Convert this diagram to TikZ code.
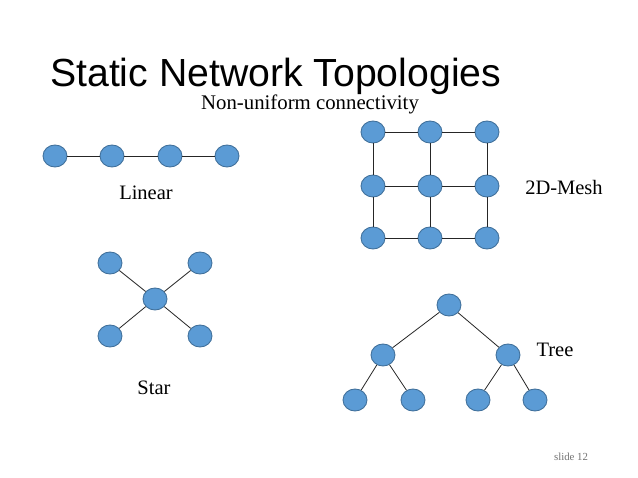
\documentclass[tikz,border=0pt]{standalone}
\usepackage{fontspec}
\setmainfont{Liberation Serif}
\newfontfamily\titlefont{Liberation Sans}
\usetikzlibrary{shapes.geometric}
\definecolor{nodefill}{HTML}{5B9BD5}
\definecolor{nodeedge}{HTML}{41719C}
\begin{document}
\begin{tikzpicture}[x=1pt,y=-1pt,
  vtx/.style={ellipse,draw=nodeedge,fill=nodefill,line width=0.9pt,inner sep=0pt,minimum width=24pt,minimum height=22pt},
  lnk/.style={draw=black!85,line width=0.8pt},
  lbl/.style={font=\fontsize{20.5}{24}\selectfont,inner sep=0pt}]
\useasboundingbox[fill=white] (0,0) rectangle (638,478);
% title
\node[anchor=base west,inner sep=0pt,font=\titlefont\fontsize{39.2}{44}\selectfont] (title) at (50,87) {Static Network Topologies};
\node[anchor=base,inner sep=0pt,font=\fontsize{20.8}{24}\selectfont] (sub) at (310,110) {Non-uniform connectivity};
% linear
\node[vtx] (l1) at (55,156) {};
\node[vtx] (l2) at (112,156) {};
\node[vtx] (l3) at (170,156) {};
\node[vtx] (l4) at (227,156) {};
\draw[lnk] (l1)--(l2) (l2)--(l3) (l3)--(l4);
\node[lbl] (linlbl) at (146,193) {Linear};
% mesh
\foreach \i/\x in {1/373,2/430,3/487}{
  \foreach \j/\y in {1/132,2/186,3/238}{
    \node[vtx] (m\i\j) at (\x,\y) {};
  }
}
\draw[lnk] (m11)--(m21) (m21)--(m31) (m12)--(m22) (m22)--(m32) (m13)--(m23) (m23)--(m33)
  (m11)--(m12) (m12)--(m13) (m21)--(m22) (m22)--(m23) (m31)--(m32) (m32)--(m33);
\node[lbl] (meshlbl) at (564,187) {2D-Mesh};
% star
\node[vtx] (sc) at (155,299) {};
\node[vtx] (s1) at (110,263) {};
\node[vtx] (s2) at (200,263) {};
\node[vtx] (s3) at (110,336) {};
\node[vtx] (s4) at (200,336) {};
\draw[lnk] (sc)--(s1) (sc)--(s2) (sc)--(s3) (sc)--(s4);
\node[lbl] (starlbl) at (154,388) {Star};
% tree
\node[vtx] (t0) at (449,305) {};
\node[vtx] (t1) at (383,355) {};
\node[vtx] (t2) at (508,355) {};
\node[vtx] (t11) at (355,400) {};
\node[vtx] (t12) at (413,400) {};
\node[vtx] (t21) at (478,400) {};
\node[vtx] (t22) at (535,400) {};
\draw[lnk] (t0)--(t1) (t0)--(t2) (t1)--(t11) (t1)--(t12) (t2)--(t21) (t2)--(t22);
\node[lbl] (treelbl) at (555,350) {Tree};
% slide number
\node[inner sep=0pt,text=black!55,font=\fontsize{10.8}{13}\selectfont] (slnum) at (571,457) {slide 12};
\end{tikzpicture}
\end{document}
